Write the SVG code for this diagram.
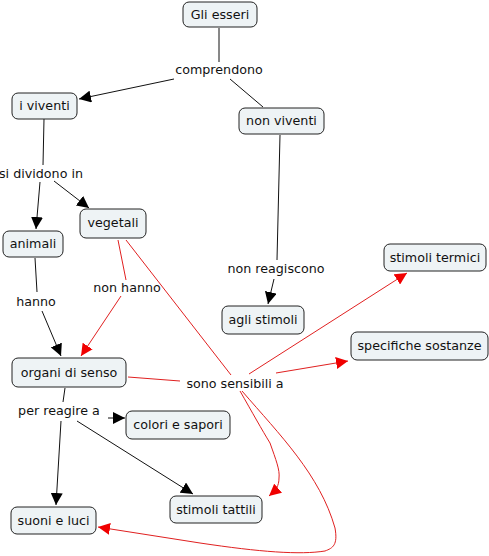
<svg xmlns="http://www.w3.org/2000/svg" width="489" height="556" viewBox="0 0 489 556">
<style>
.n rect{fill:#eef3f5;stroke:#222;stroke-width:1}
text{font-family:"DejaVu Sans",Verdana,sans-serif;font-size:12.7px;fill:#111;text-anchor:middle}
.k{stroke:#111;stroke-width:1;fill:none}
.r{stroke:#e02020;stroke-width:1;fill:none}
</style>
<defs>
<marker id="ak" viewBox="0 0 12 12" refX="12" refY="6" markerWidth="12" markerHeight="12" markerUnits="userSpaceOnUse" orient="auto"><path d="M0,0L12,6L0,12z" fill="#000"/></marker>
<marker id="ar" viewBox="0 0 12 12" refX="12" refY="6" markerWidth="12" markerHeight="12" markerUnits="userSpaceOnUse" orient="auto"><path d="M0,0L12,6L0,12z" fill="#f00000"/></marker>
</defs>
<rect width="489" height="556" fill="#fff"/>
<g id="connectors">
<line class="k" x1="219" y1="28" x2="219" y2="62"/>
<line class="k" x1="174" y1="79" x2="79" y2="99" marker-end="url(#ak)"/>
<line class="k" x1="230" y1="79" x2="263" y2="107"/>
<line class="k" x1="44" y1="119" x2="43" y2="165"/>
<line class="k" x1="40" y1="182" x2="36" y2="229" marker-end="url(#ak)"/>
<line class="k" x1="54" y1="181" x2="89" y2="208" marker-end="url(#ak)"/>
<line class="k" x1="280" y1="135" x2="277" y2="260"/>
<line class="k" x1="274" y1="279" x2="268" y2="304" marker-end="url(#ak)"/>
<line class="k" x1="35" y1="258" x2="37" y2="292"/>
<line class="k" x1="42" y1="311" x2="61" y2="356" marker-end="url(#ak)"/>
<line class="k" x1="65" y1="388" x2="63" y2="402"/>
<line class="k" x1="108" y1="418" x2="125" y2="418" marker-end="url(#ak)"/>
<line class="k" x1="61" y1="421" x2="56" y2="505" marker-end="url(#ak)"/>
<line class="k" x1="77" y1="421" x2="193" y2="494" marker-end="url(#ak)"/>
<line class="r" x1="118" y1="240" x2="126" y2="280"/>
<line class="r" x1="121" y1="296" x2="81" y2="356" marker-end="url(#ar)"/>
<line class="r" x1="126" y1="240" x2="231" y2="375"/>
<line class="r" x1="128" y1="377" x2="180" y2="381"/>
<line class="r" x1="249" y1="374" x2="407" y2="273" marker-end="url(#ar)"/>
<line class="r" x1="276" y1="373" x2="348" y2="361" marker-end="url(#ar)"/>
<path class="r" d="M240,391 C252,412 262,430 270,443 C276,460 280,470 279,478 C279,486 276,490 269,496" marker-end="url(#ar)"/>
<path class="r" d="M242,391 C280,435 320,475 335,528 C338,545 333,548 325,551 C300,555 260,552 200,543 L98,527" marker-end="url(#ar)"/>
</g>
<g id="gli-esseri" class="n"><rect x="183" y="2" width="74" height="25" rx="6"/><text x="220" y="19">Gli esseri</text></g>
<g id="comprendono"><text x="219" y="74">comprendono</text></g>
<g id="i-viventi" class="n"><rect x="12" y="93" width="65" height="26" rx="6"/><text x="44.5" y="110">i viventi</text></g>
<g id="non-viventi" class="n"><rect x="239" y="108" width="85" height="26" rx="6"/><text x="281.5" y="125">non viventi</text></g>
<g id="si-dividono-in"><text x="41" y="178">si dividono in</text></g>
<g id="animali" class="n"><rect x="3" y="231" width="60" height="26" rx="6"/><text x="33" y="248">animali</text></g>
<g id="vegetali" class="n"><rect x="80" y="209" width="66" height="29" rx="6"/><text x="113" y="227">vegetali</text></g>
<g id="hanno"><text x="36" y="306">hanno</text></g>
<g id="non-hanno"><text x="127" y="292">non hanno</text></g>
<g id="non-reagiscono"><text x="276" y="273">non reagiscono</text></g>
<g id="agli-stimoli" class="n"><rect x="222" y="306" width="82" height="28" rx="6"/><text x="263" y="324">agli stimoli</text></g>
<g id="stimoli-termici" class="n"><rect x="384" y="244" width="102" height="27" rx="6"/><text x="435" y="262">stimoli termici</text></g>
<g id="specifiche-sostanze" class="n"><rect x="351" y="332" width="137" height="28" rx="6"/><text x="419.5" y="350">specifiche sostanze</text></g>
<g id="organi-di-senso" class="n"><rect x="12" y="358" width="114" height="29" rx="6"/><text x="69" y="377">organi di senso</text></g>
<g id="sono-sensibili-a"><text x="235" y="388">sono sensibili a</text></g>
<g id="per-reagire-a"><text x="59" y="415">per reagire a</text></g>
<g id="colori-e-sapori" class="n"><rect x="126" y="411" width="104" height="28" rx="6"/><text x="178" y="429">colori e sapori</text></g>
<g id="stimoli-tattili" class="n"><rect x="170" y="496" width="92" height="27" rx="6"/><text x="216" y="514">stimoli tattili</text></g>
<g id="suoni-e-luci" class="n"><rect x="11" y="507" width="85" height="27" rx="6"/><text x="53.5" y="525">suoni e luci</text></g>
</svg>
